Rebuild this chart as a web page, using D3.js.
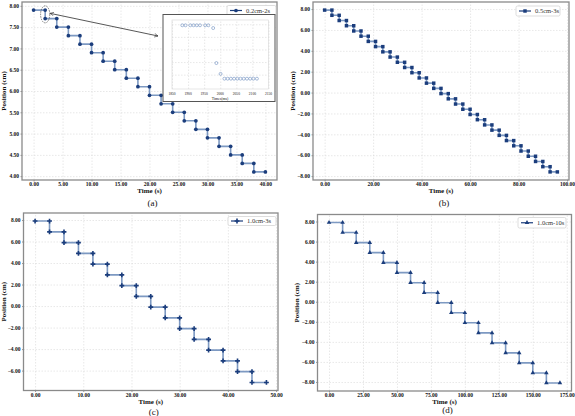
<!doctype html>
<html>
<head>
<meta charset="utf-8">
<style>
  body { margin: 0; background: #fff; }
  svg { display: block; }
  text { font-family: 'Liberation Serif', 'Times New Roman', serif; fill: #111; }
  .tick text { font-size: 5.5px; font-weight: bold; }
  .grid line { stroke: #d9d9d9; stroke-dasharray: 1.5 1.5; stroke-width: 0.6; }
  .axislabel { font-size: 7px; font-weight: bold; }
  .panel { font-size: 9px; }
  .legend text { font-size: 6.5px; fill: #333; }
</style>
<script src="https://d3js.org/d3.v7.min.js"></script>
</head>
<body>
<svg width="575" height="416"></svg>
<script>
// step start times (last value is the end of the final step) and step levels
const timesA = [0, 2, 4, 6, 8, 10, 12, 14, 16, 18, 20, 22, 24, 26, 28, 30, 32, 34, 36, 38, 40];
const levelsA = [7.9, 7.7, 7.5, 7.3, 7.1, 6.9, 6.7, 6.5, 6.3, 6.1, 5.9, 5.7, 5.5, 5.3, 5.1, 4.9, 4.7, 4.5, 4.3, 4.1];

const timesB = [0, 3, 6, 9, 12, 15, 18, 21, 24, 27, 30, 33, 36, 39, 42, 45, 48, 51, 54, 57, 60, 63, 66, 69, 72, 75, 78, 81, 84, 87, 90, 93, 96];
const levelsB = [7.9, 7.4, 6.9, 6.4, 5.9, 5.4, 4.9, 4.4, 3.9, 3.4, 2.9, 2.4, 1.9, 1.4, 0.9, 0.4,
                 -0.1, -0.6, -1.1, -1.6, -2.1, -2.6, -3.1, -3.6, -4.1, -4.6, -5.1, -5.6, -6.1, -6.6, -7.1, -7.6];

const timesC = [0, 3, 6, 9, 12, 15, 18, 21, 24, 27, 30, 33, 36, 39, 42, 45, 48];
const levelsC = [7.9, 6.9, 5.9, 4.9, 3.9, 2.9, 1.9, 0.9, -0.1, -1.1, -2.1, -3.1, -4.1, -5.1, -6.1, -7.1];

const timesD = [0, 10, 20, 30, 40, 50, 60, 70, 80, 90, 100, 110, 120, 130, 140, 150, 160, 170];
const levelsD = [7.9, 6.9, 5.9, 4.9, 3.9, 2.9, 1.9, 0.9, -0.1, -1.1, -2.1, -3.1, -4.1, -5.1, -6.1, -7.1, -8.1];

const xTicksA = [0, 5, 10, 15, 20, 25, 30, 35, 40];
const yTicksA = [4, 4.5, 5, 5.5, 6, 6.5, 7, 7.5, 8];
const xTicksB = [0, 20, 40, 60, 80, 100];
const xTicksC = [0, 10, 20, 30, 40, 50];
const xTicksD = [0, 25, 50, 75, 100, 125, 150, 175];
const yTicksBCD = [-8, -6, -4, -2, 0, 2, 4, 6, 8];

// inset of panel (a): raw samples around the first step
const insetT = [1882, 1892, 1907, 1917, 1927, 1937, 1953, 1963, 1978, 1988, 2001,
                2013, 2023, 2033, 2043, 2053, 2063, 2073, 2083, 2093, 2103, 2114];
const insetV = [7.896, 7.896, 7.896, 7.896, 7.896, 7.896, 7.896, 7.896, 7.885, 7.746, 7.703,
                7.684, 7.684, 7.684, 7.684, 7.684, 7.684, 7.684, 7.684, 7.684, 7.684, 7.684];
const insetXTicks = [1850, 1900, 1950, 2000, 2050, 2100, 2150];
const insetYTicks = [7.70, 7.75, 7.80, 7.85, 7.90];

const svg = d3.select('svg');
const fmt = d3.format('.2f');
const lineColor = '#7d99c2';
const markColor = '#1b3d7c';

function stepPoints(times, levels) {
    const pts = [];
    levels.forEach((v, i) => {
        pts.push([times[i], v]);
        pts.push([times[i + 1], v]);
    });
    return pts;
}

function padded(ext) {
    const p = (ext[1] - ext[0]) * 0.05;
    return [ext[0] - p, ext[1] + p];
}

function drawPanel(opt) {
    const [x0, y0, x1, y1] = opt.frame;
    const pts = stepPoints(opt.times, opt.levels);
    const x = d3.scaleLinear().domain(padded(d3.extent(opt.times))).range([x0, x1]);
    const y = d3.scaleLinear().domain(padded(d3.extent(opt.levels))).range([y1, y0]);
    const g = svg.append('g');

    const yt = opt.yTicks.filter(v => v >= y.domain()[0] && v <= y.domain()[1]);
    const xt = opt.xTicks.filter(v => v >= x.domain()[0] && v <= x.domain()[1]);

    g.append('g').attr('class', 'grid')
        .attr('transform', `translate(0,${y1})`)
        .call(d3.axisBottom(x).tickValues(xt).tickSize(-(y1 - y0)).tickFormat(''))
        .call(s => s.select('.domain').remove());
    g.append('g').attr('class', 'grid')
        .attr('transform', `translate(${x0},0)`)
        .call(d3.axisLeft(y).tickValues(yt).tickSize(-(x1 - x0)).tickFormat(''))
        .call(s => s.select('.domain').remove());

    const ax = g.append('g')
        .attr('transform', `translate(0,${y1})`)
        .call(d3.axisBottom(x).tickValues(xt).tickSize(1.5).tickPadding(0.8).tickFormat(fmt));
    ax.select('.domain').remove();
    ax.selectAll('line').attr('stroke', '#555').attr('stroke-width', 0.6);
    ax.selectAll('text').attr('font-family', null).attr('font-size', null);

    const ay = g.append('g')
        .attr('transform', `translate(${x0},0)`)
        .call(d3.axisLeft(y).tickValues(yt).tickSize(1.5).tickPadding(1.5).tickFormat(fmt));
    ay.select('.domain').remove();
    ay.selectAll('line').attr('stroke', '#555').attr('stroke-width', 0.6);
    ay.selectAll('text').attr('font-family', null).attr('font-size', null);

    g.append('rect')
        .attr('x', x0).attr('y', y0)
        .attr('width', x1 - x0).attr('height', y1 - y0)
        .attr('fill', 'none').attr('stroke', '#8a8a8a').attr('stroke-width', 1.3);

    g.append('path')
        .datum(pts)
        .attr('fill', 'none')
        .attr('stroke', lineColor)
        .attr('stroke-width', 1.6)
        .attr('d', d3.line().x(d => x(d[0])).y(d => y(d[1])));

    const sym = d3.symbol().type(opt.symbol).size(opt.symSize);
    g.selectAll(null).data(pts).enter().append('path')
        .attr('d', sym)
        .attr('transform', d => `translate(${x(d[0])},${y(d[1])})`)
        .attr('fill', markColor);

    // legend
    const [lx, ly, lw, lh] = opt.legend;
    const lg = g.append('g').attr('class', 'legend');
    lg.append('rect').attr('x', lx).attr('y', ly).attr('width', lw).attr('height', lh)
        .attr('rx', 1.5).attr('fill', '#fff').attr('stroke', '#cfcfcf').attr('stroke-width', 0.7);
    lg.append('line').attr('x1', lx + 3).attr('x2', lx + 15)
        .attr('y1', ly + lh / 2).attr('y2', ly + lh / 2)
        .attr('stroke', markColor).attr('stroke-width', 1.2);
    lg.append('path').attr('d', sym)
        .attr('transform', `translate(${lx + 9},${ly + lh / 2})`).attr('fill', markColor);
    lg.append('text').attr('x', lx + 19).attr('y', ly + lh / 2 + 2.3).text(opt.name);

    g.append('text').attr('class', 'axislabel')
        .attr('text-anchor', 'middle')
        .attr('x', (x0 + x1) / 2).attr('y', y1 + opt.tlabDy)
        .text('Time (s)');
    g.append('text').attr('class', 'axislabel')
        .attr('text-anchor', 'middle')
        .attr('transform', `translate(${opt.ylabX},${(y0 + y1) / 2}) rotate(-90)`)
        .text('Position  (cm)');
    g.append('text').attr('class', 'panel')
        .attr('text-anchor', 'middle')
        .attr('x', (x0 + x1) / 2 + 3).attr('y', opt.capY)
        .text(opt.caption);

    return {x, y};
}

const pa = drawPanel({
    frame: [22, 2, 277, 180], times: timesA, levels: levelsA,
    xTicks: xTicksA, yTicks: yTicksA, symbol: d3.symbolCircle, symSize: 11,
    legend: [227, 5.5, 49, 10], name: '0.2cm-2s', ylabX: 5.5, caption: '(a)', capY: 206,
    tlabDy: 13
});
drawPanel({
    frame: [313, 2, 569, 180], times: timesB, levels: levelsB,
    xTicks: xTicksB, yTicks: yTicksBCD, symbol: d3.symbolSquare, symSize: 12,
    legend: [516, 6, 44, 10], name: '0.5cm-3s', ylabX: 295, caption: '(b)', capY: 205.5,
    tlabDy: 13
});
drawPanel({
    frame: [23.5, 213, 278, 390.5], times: timesC, levels: levelsC,
    xTicks: xTicksC, yTicks: yTicksBCD, symbol: d3.symbolCross, symSize: 13,
    legend: [228, 216.5, 48, 9], name: '1.0cm-3s', ylabX: 5.5, caption: '(c)', capY: 414.5,
    tlabDy: 13.5
});
drawPanel({
    frame: [317.5, 214.5, 571.5, 391], times: timesD, levels: levelsD,
    xTicks: xTicksD, yTicks: yTicksBCD, symbol: d3.symbolTriangle, symSize: 9,
    legend: [518, 217.5, 48, 10.5], name: '1.0cm-10s', ylabX: 299, caption: '(d)', capY: 413,
    tlabDy: 13
});

// highlighted first step and arrow to the inset
const defs = svg.append('defs');
defs.append('marker').attr('id', 'head').attr('viewBox', '0 0 10 10')
    .attr('refX', 9).attr('refY', 5).attr('markerWidth', 5).attr('markerHeight', 5)
    .attr('orient', 'auto-start-reverse')
    .append('path').attr('d', 'M1,1 L9,5 L1,9').attr('fill', 'none').attr('stroke', '#333').attr('stroke-width', 1.3);

const ex = pa.x(2), ey = (pa.y(7.9) + pa.y(7.7)) / 2;
svg.append('ellipse').attr('cx', ex).attr('cy', ey).attr('rx', 4.6).attr('ry', 8.5)
    .attr('fill', 'none').attr('stroke', '#444').attr('stroke-width', 0.7)
    .attr('stroke-dasharray', '1.5 1');
svg.append('line').attr('x1', ex + 5).attr('y1', ey - 1).attr('x2', 158).attr('y2', 36)
    .attr('stroke', '#444').attr('stroke-width', 0.9)
    .attr('marker-start', 'url(#head)').attr('marker-end', 'url(#head)');

// inset
const ins = svg.append('g');
ins.append('rect').attr('x', 163).attr('y', 14.5).attr('width', 112).attr('height', 87)
    .attr('fill', '#fff').attr('stroke', '#555').attr('stroke-width', 1);
const ix = d3.scaleLinear().domain([1850, 2150]).range([172, 268.5]);
const iy = d3.scaleLinear().domain([7.643, 7.917]).range([89, 20]);
ins.append('g').attr('class', 'grid')
    .attr('transform', 'translate(0,89)')
    .call(d3.axisBottom(ix).tickValues(insetXTicks).tickSize(-69).tickFormat(''))
    .call(s => s.select('.domain').remove())
    .selectAll('line').attr('stroke-dasharray', null).attr('stroke', '#e3e3e3');
ins.append('g').attr('class', 'grid')
    .attr('transform', 'translate(172,0)')
    .call(d3.axisLeft(iy).tickValues(insetYTicks).tickSize(-96.5).tickFormat(''))
    .call(s => s.select('.domain').remove())
    .selectAll('line').attr('stroke-dasharray', null).attr('stroke', '#e3e3e3');
ins.append('rect').attr('x', 172).attr('y', 20).attr('width', 96.5).attr('height', 69)
    .attr('fill', 'none').attr('stroke', '#d5d5d5').attr('stroke-width', 0.6);
ins.selectAll(null).data(insetXTicks).enter().append('text')
    .attr('x', d => ix(d)).attr('y', 94.5).attr('text-anchor', 'middle')
    .attr('font-size', 3.6).text(d => d);
ins.append('text').attr('x', 220).attr('y', 99.5).attr('text-anchor', 'middle')
    .attr('font-size', 3.8).text('Times(ms)');
ins.selectAll(null).data(insetT).enter().append('circle')
    .attr('cx', (d, i) => ix(d)).attr('cy', (d, i) => iy(insetV[i]))
    .attr('r', 1.5).attr('fill', 'none').attr('stroke', '#6f8fbf').attr('stroke-width', 0.6);
</script>
</body>
</html>
